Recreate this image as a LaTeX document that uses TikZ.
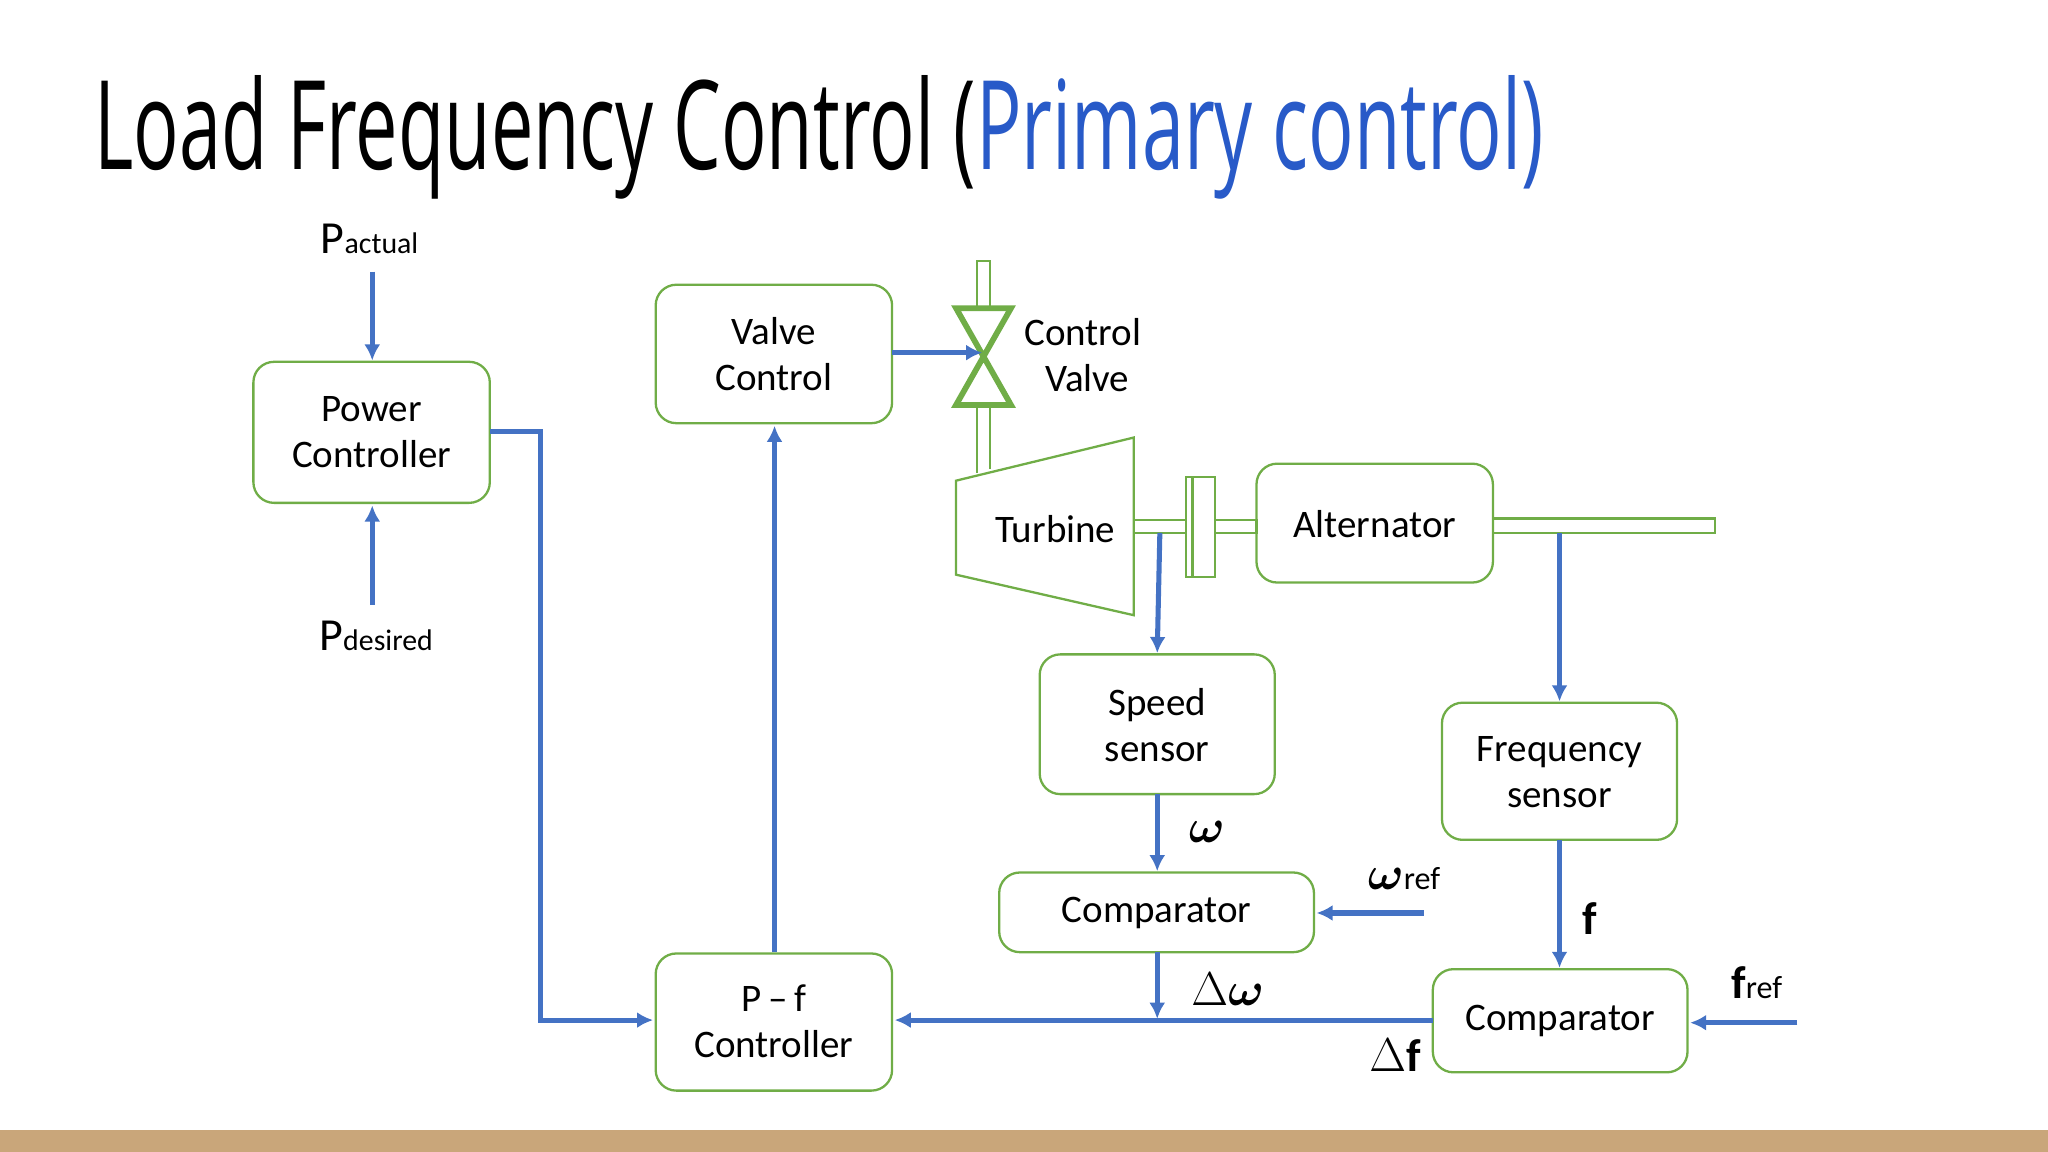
\documentclass[tikz,border=0pt]{standalone}
\usepackage{amsmath}
\usepackage{fontspec}
\setmainfont{Carlito}
\newfontfamily\titlefont{Open Sans}
\usepackage{graphicx}
\usetikzlibrary{arrows.meta}
\definecolor{gb}{RGB}{112,173,71}
\definecolor{ab}{RGB}{68,114,196}
\definecolor{tb}{RGB}{40,90,200}
\definecolor{bar}{RGB}{201,166,122}
\begin{document}
\begin{tikzpicture}[x=0.02cm,y=-0.02cm,
 box/.style={draw=gb,line width=1pt,rounded corners=9pt,align=center,font=\fontsize{17}{20}\selectfont},
 ar/.style={draw=ab,line width=2.2pt,-{Latex[length=7pt,width=7pt]}},
 lab/.style={font=\fontsize{20}{22}\selectfont\bfseries},
 eq/.style={draw=gb,line width=1pt}]
\useasboundingbox (0,0) rectangle (1568,882);
\fill[bar] (0,865) rectangle (1568,882);
\node[anchor=base west,inner sep=0] (title) at (72,130) {\resizebox{22.2cm}{1.44cm}{\titlefont\fontseries{l}\selectfont Load Frequency Control (\textcolor{tb}{Primary control)}}};
% boxes
\draw[box] (194,277) rectangle (375,385); \node[box,draw=none] (pc) at (284.5,331) {Power\\Controller};
\draw[box] (502,218) rectangle (683,324); \node[box,draw=none] (vc) at (592.5,271) {Valve\\Control};
\draw[box] (796,501) rectangle (976,608); \node[box,draw=none] (ss) at (886,555) {Speed\\sensor};
\draw[box] (962,355) rectangle (1143,446); \node[box,draw=none] (alt) at (1052.5,401) {Alternator};
\draw[box] (1104,538) rectangle (1284,643); \node[box,draw=none] (fs) at (1194,591) {Frequency\\sensor};
\draw[box] (765,668) rectangle (1006,729); \node[box,draw=none] (c1) at (885.5,699) {Comparator};
\draw[box] (502,730) rectangle (683,835); \node[box,draw=none] (pf) at (592.5,782) {P\,--\,f\\Controller};
\draw[box] (1097,742) rectangle (1292,821); \node[box,draw=none] (c2) at (1194.5,782) {Comparator};
% turbine
\draw[eq] (732,368) -- (868,335) -- (868,471) -- (732,440) -- cycle;
\node[box,draw=none] (tu) at (808,405) {Turbine};
% valve + pipe
\draw[eq] (748,235) -- (748,200) -- (758,200) -- (758,235);
\draw[eq] (748,310) -- (748,362); \draw[eq] (758,310) -- (758,359);
\draw[gb,line width=2.5pt] (732,236) -- (774,236) -- (732,310) -- (774,310) -- cycle;
\node[box,draw=none] (cv) at (829,272) {Control\\\ Valve};
% shafts
\draw[eq] (868,398) rectangle (908,408); \draw[eq] (930,398) rectangle (962,408);
\draw[eq] (908,365) rectangle (930,442); \draw[eq] (913,365) -- (913,442);
\draw[eq] (1143,397) rectangle (1313,408);
% labels
\node[font=\fontsize{20}{22}\selectfont] (pa) at (283,183) {P\fontsize{13}{15}\selectfont actual};
\node[font=\fontsize{20}{22}\selectfont] (pd) at (288,487) {P\fontsize{13}{15}\selectfont desired};
\node[lab] (w) at (924,637) {$\boldsymbol\omega$};
\node[lab] (wr) at (1075,673) {$\boldsymbol\omega$\fontsize{14}{15}\selectfont\mdseries ref};
\node[lab] (dw) at (940,757) {$\Delta\boldsymbol\omega$};
\node[lab] (f) at (1217,703) {f};
\node[lab] (fr) at (1345,752) {f\fontsize{14}{15}\selectfont\mdseries ref};
\node[lab] (df) at (1068,808) {$\Delta$f};
% coordinates
\coordinate (pat) at (285,208); \coordinate (pdt) at (285,463);
\coordinate (wrs) at (1090,699); \coordinate (frs) at (1376,783);
% arrows
\draw[ar] (pat) -- (285,276);
\draw[ar] (pdt) -- (285,387);
\draw[ar] (375,330) -- (414,330) -- (414,781) -- (500,781);
\draw[ar] (593,729) -- (593,326);
\draw[ar] (683,270) -- (752,270);
\draw[ar] (888,408) -- (886,500);
\draw[ar] (1194,408) -- (1194,537);
\draw[ar] (886,608) -- (886,667);
\draw[ar] (wrs) -- (1008,699);
\draw[ar] (886,729) -- (886,780);
\draw[ar] (1097,781) -- (685,781);
\draw[ar] (1194,643) -- (1194,741);
\draw[ar] (frs) -- (1294,783);
\end{tikzpicture}
\end{document}
